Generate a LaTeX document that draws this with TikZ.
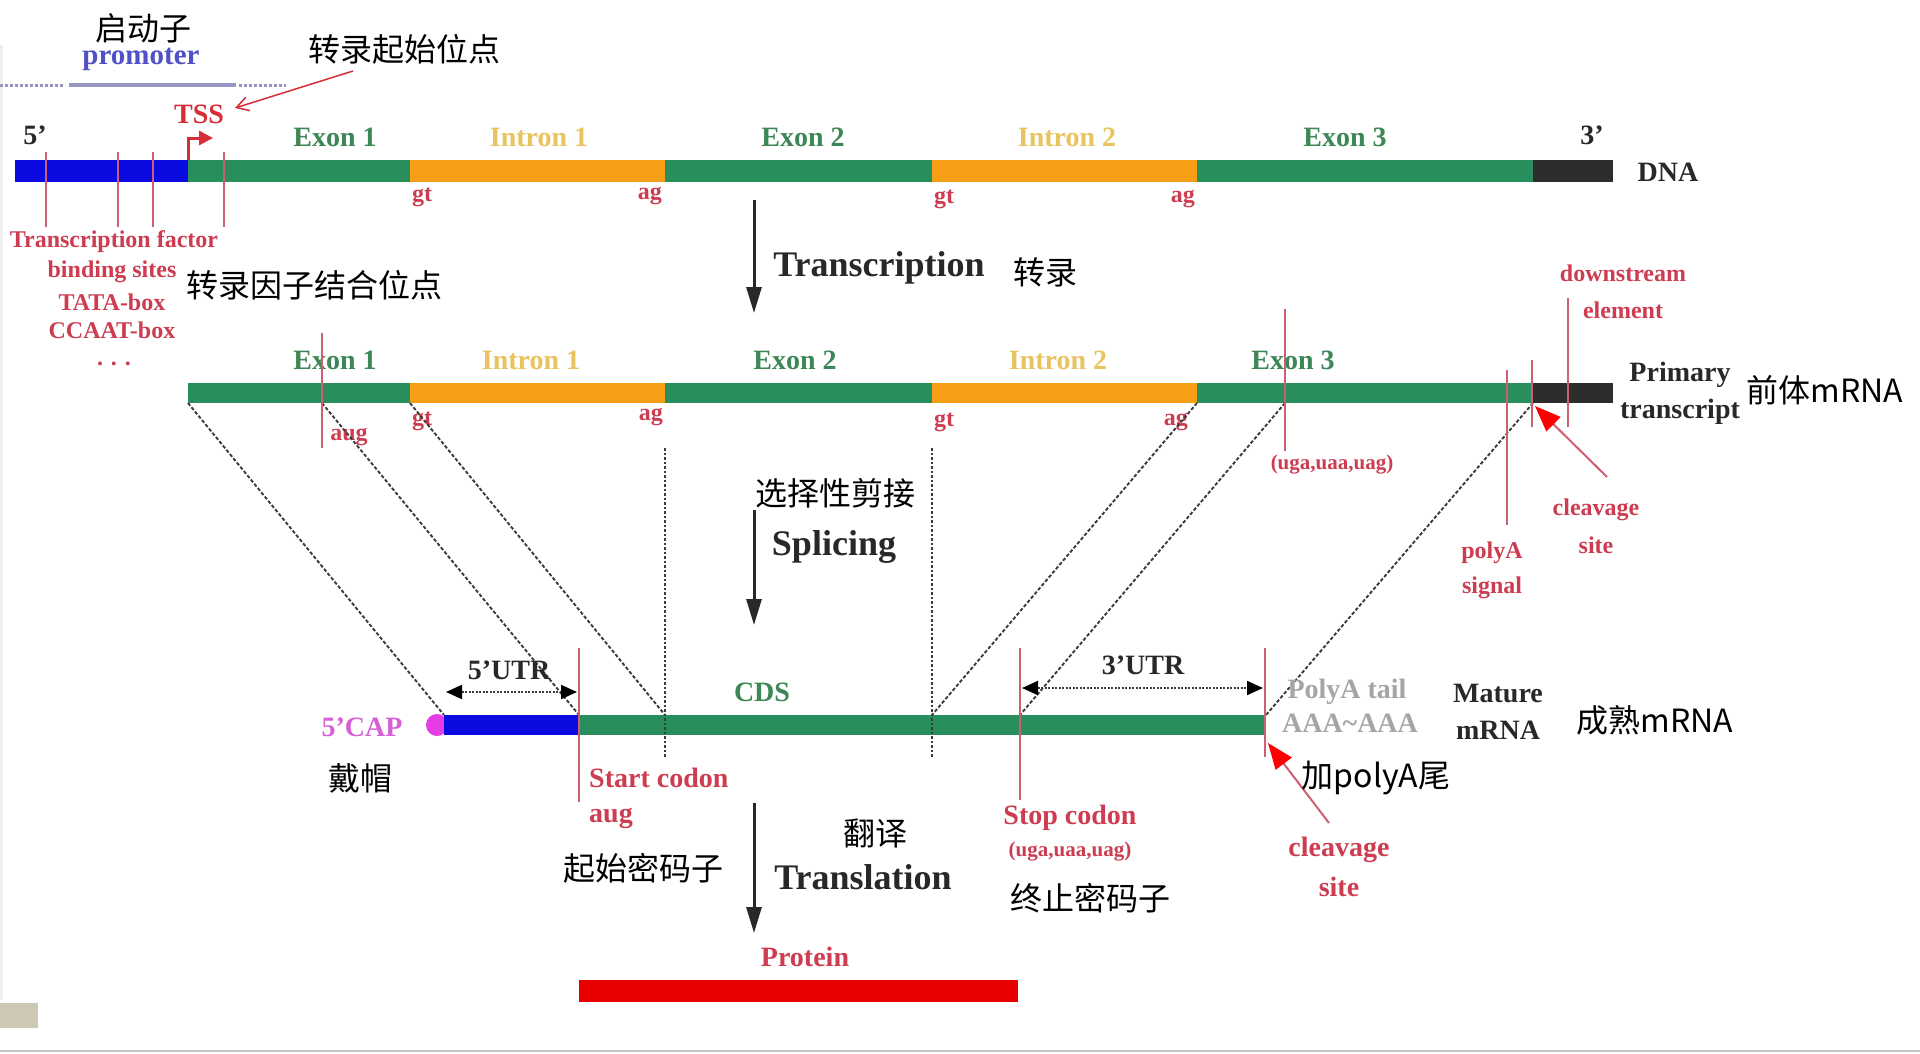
\documentclass[tikz,border=0pt]{standalone}
\usepackage{fontspec}
\setmainfont{Liberation Serif}
\newfontfamily\cjk{Noto Sans CJK SC}
\usetikzlibrary{arrows.meta}
\definecolor{exonG}{RGB}{40,142,92}
\definecolor{intronO}{RGB}{245,158,22}
\definecolor{dnaBlue}{RGB}{10,10,225}
\definecolor{tailK}{RGB}{45,45,45}
\definecolor{siteR}{RGB}{205,95,115}
\definecolor{labR}{RGB}{205,60,80}
\definecolor{tssR}{RGB}{215,45,55}
\definecolor{exLab}{RGB}{60,135,85}
\definecolor{inLab}{RGB}{232,195,95}
\definecolor{promB}{RGB}{80,80,200}
\definecolor{promLine}{RGB}{150,150,195}
\definecolor{capM}{RGB}{230,60,230}
\definecolor{capLab}{RGB}{215,95,215}
\definecolor{protR}{RGB}{232,0,0}
\definecolor{grayTxt}{RGB}{165,165,165}
\definecolor{darkTxt}{RGB}{40,40,40}
\definecolor{linkK}{RGB}{60,60,60}
\definecolor{edgeBox}{RGB}{205,200,180}
\tikzset{
  lab/.style={font=\fontsize{28}{32}\selectfont\bfseries, inner sep=0pt},
  exlab/.style={lab, text=exLab},
  inlab/.style={lab, text=inLab},
  redlab/.style={lab, text=labR},
  smallred/.style={redlab, font=\fontsize{24}{28}\selectfont\bfseries},
  tinyred/.style={redlab, font=\fontsize{21}{24}\selectfont\bfseries},
  blk/.style={lab, text=darkTxt},
  bigblk/.style={blk, font=\fontsize{36}{40}\selectfont\bfseries},
  cn/.style={font=\cjk\fontsize{32}{36}\selectfont, inner sep=0pt, text=black},
  site/.style={draw=siteR, line width=2pt},
  link/.style={draw=linkK, line width=1.9pt, dash pattern=on 3.5pt off 2pt},
  vlink/.style={draw=linkK, line width=1.7pt, dash pattern=on 2.5pt off 2pt},
  bigarrow/.style={draw=darkTxt, line width=3pt, -{Triangle[length=26pt,width=15pt]}},
  utr/.style={draw=linkK, line width=2pt, dash pattern=on 2pt off 1.5pt,
    {Triangle[length=16pt,width=14pt,color=black]}-{Triangle[length=16pt,width=14pt,color=black]}},
  cleave/.style={draw=siteR, line width=2pt, -{Triangle[length=26pt,width=20pt,color=red]}},
}
\begin{document}
\begin{tikzpicture}[x=1pt,y=-1pt]
\useasboundingbox (0,0) rectangle (1920,1053);
\fill[white] (0,0) rectangle (1920,1053);
% page edges
\fill[gray!12] (0,45) rectangle (3,1000);
\fill[edgeBox] (0,1003) rectangle (38,1028);
\draw[gray!45, line width=2pt] (0,1051) -- (1920,1051);

% ---------- Row 1: DNA ----------
\fill[dnaBlue] (15,160) rectangle (188,182);
\fill[exonG] (188,160) rectangle (410,182);
\fill[intronO] (410,160) rectangle (665,182);
\fill[exonG] (665,160) rectangle (932,182);
\fill[intronO] (932,160) rectangle (1197,182);
\fill[exonG] (1197,160) rectangle (1533,182);
\fill[tailK] (1533,160) rectangle (1613,182);

% promoter line
\draw[promLine, line width=3pt, dash pattern=on 3pt off 2pt] (0,85) -- (65,85);
\draw[promLine, line width=4pt] (69,85) -- (236,85);
\draw[promLine, line width=3pt, dash pattern=on 3pt off 2pt] (239,85) -- (286,85);

\node[cn] (qdz) at (143,28) {启动子};
\node[lab, text=promB, font=\fontsize{29}{32}\selectfont\bfseries] (prom) at (141,59) {promoter};
\node[cn] (zlqs) at (404,49) {转录起始位点};
\node[lab, text=tssR] (tss) at (199,114) {TSS};
\coordinate (tssA) at (353,71);
\coordinate (tssB) at (235,108);
\draw[tssR, line width=1.5pt, -{Straight Barb[length=12pt,width=14pt]}] (tssA) -- (tssB);
\coordinate (tssBase) at (188,160);
\coordinate (tssTip) at (213,138);
\draw[tssR, line width=3pt, -{Triangle[length=14pt,width=14pt]}] (tssBase) |- (tssTip);

\node[blk] (five) at (35,135) {5'};
\node[exlab] (e1) at (335,137) {Exon 1};
\node[inlab] (i1) at (539,137) {Intron 1};
\node[exlab] (e2) at (803,137) {Exon 2};
\node[inlab] (i2) at (1067,137) {Intron 2};
\node[exlab] (e3) at (1345,137) {Exon 3};
\node[blk] (three) at (1592,135) {3'};
\node[blk] (dna) at (1668,172) {DNA};

\node[smallred, anchor=west] (gt1) at (412,197) {gt};
\node[smallred, anchor=east] (ag1) at (662,196) {ag};
\node[smallred, anchor=west] (gt2) at (934,199) {gt};
\node[smallred, anchor=east] (ag2) at (1195,199) {ag};

% TF binding sites
\foreach \xx/\nm in {46/tfa,118/tfb,153/tfc,224/tfd}{
  \coordinate (\nm t) at (\xx,152);
  \coordinate (\nm b) at (\xx,227);
  \draw[site] (\nm t) -- (\nm b);
}
\node[smallred] (tf1) at (114,242) {Transcription factor};
\node[smallred] (tf2) at (112,272) {binding sites};
\node[smallred] (tf3) at (112,302) {TATA-box};
\node[smallred] (tf4) at (112,330) {CCAAT-box};
\node[smallred] (tf5) at (114,364) {. . .};
\node[cn] (zlyz) at (314,285) {转录因子结合位点};

% Transcription arrow
\coordinate (trA) at (754,200);
\coordinate (trB) at (754,313);
\draw[bigarrow] (trA) -- (trB);
\node[bigblk] (trans) at (879,268) {Transcription};
\node[cn] (zl) at (1045,272) {转录};

% ---------- Row 2: primary transcript ----------
\fill[exonG] (188,383) rectangle (410,403);
\fill[intronO] (410,383) rectangle (665,403);
\fill[exonG] (665,383) rectangle (932,403);
\fill[intronO] (932,383) rectangle (1197,403);
\fill[exonG] (1197,383) rectangle (1533,403);
\fill[tailK] (1533,383) rectangle (1613,403);

\node[exlab] (r2e1) at (335,360) {Exon 1};
\node[inlab] (r2i1) at (531,360) {Intron 1};
\node[exlab] (r2e2) at (795,360) {Exon 2};
\node[inlab] (r2i2) at (1058,360) {Intron 2};
\node[exlab] (r2e3) at (1293,360) {Exon 3};

\node[smallred, anchor=west] (r2gt1) at (412,421) {gt};
\node[smallred, anchor=east] (r2ag1) at (663,417) {ag};
\node[smallred, anchor=west] (r2gt2) at (934,422) {gt};
\node[smallred, anchor=east] (r2ag2) at (1188,422) {ag};
\node[smallred] (r2aug) at (349,437) {aug};
\node[tinyred] (r2stop) at (1332,465) {(uga,uaa,uag)};

\node[smallred] (ds1) at (1623,273) {downstream};
\node[smallred] (ds2) at (1623,310) {element};
\node[smallred] (cl1) at (1596,510) {cleavage};
\node[smallred] (cl2) at (1596,545) {site};
\node[smallred] (pa1) at (1492,553) {polyA};
\node[smallred] (pa2) at (1492,588) {signal};
\node[blk] (prim1) at (1680,375) {Primary};
\node[blk] (prim2) at (1680,412) {transcript};
\node[cn] (qt) at (1825,390) {前体mRNA};

% ---------- Row 3: mature mRNA ----------
\fill[capM] (437,725) circle (11);
\fill[dnaBlue] (444,715) rectangle (579,735);
\fill[exonG] (579,715) rectangle (1266,735);

% junction coordinates
\coordinate (p2a) at (188,403);   \coordinate (p3a) at (444,715);
\coordinate (p2aug) at (322,403); \coordinate (p3aug) at (579,715);
\coordinate (p2gt) at (410,403);  \coordinate (p3j1) at (665,715);
\coordinate (p2ag) at (1197,403); \coordinate (p3j2) at (932,715);
\coordinate (p2stop) at (1285,403); \coordinate (p3stop) at (1020,715);
\coordinate (p2cl) at (1533,403); \coordinate (p3end) at (1266,715);
\coordinate (v1t) at (665,448); \coordinate (v1b) at (665,757);
\coordinate (v2t) at (932,448); \coordinate (v2b) at (932,757);

\draw[link] (p2a) -- (p3a);
\draw[link] (p2aug) -- (p3aug);
\draw[link] (p2gt) -- (p3j1);
\draw[link] (p2ag) -- (p3j2);
\draw[link] (p2stop) -- (p3stop);
\draw[link] (p2cl) -- (p3end);
\draw[vlink] (v1t) -- (v1b);
\draw[vlink] (v2t) -- (v2b);

% Row 2 site lines
\coordinate (s1t) at (322,333);  \coordinate (s1b) at (322,448);
\coordinate (s2t) at (1285,309); \coordinate (s2b) at (1285,451);
\coordinate (s3t) at (1507,370); \coordinate (s3b) at (1507,525);
\coordinate (s4t) at (1532,360); \coordinate (s4b) at (1532,427);
\coordinate (s5t) at (1568,298); \coordinate (s5b) at (1568,427);
\draw[site] (s1t) -- (s1b);
\draw[site] (s2t) -- (s2b);
\draw[site] (s3t) -- (s3b);
\draw[site] (s4t) -- (s4b);
\draw[site] (s5t) -- (s5b);
\coordinate (c2a) at (1607,477); \coordinate (c2b) at (1535,406);
\draw[cleave] (c2a) -- (c2b);

% Splicing arrow
\coordinate (spA) at (754,510);
\coordinate (spB) at (754,625);
\draw[bigarrow] (spA) -- (spB);
\node[cn] (xzx) at (835,493) {选择性剪接};
\node[bigblk] (splice) at (834,547) {Splicing};

% Row 3 site lines and labels
\coordinate (t1t) at (579,648);  \coordinate (t1b) at (579,802);
\coordinate (t2t) at (1020,648); \coordinate (t2b) at (1020,800);
\coordinate (t3t) at (1265,648); \coordinate (t3b) at (1265,757);
\draw[site] (t1t) -- (t1b);
\draw[site] (t2t) -- (t2b);
\draw[site] (t3t) -- (t3b);
\coordinate (u5a) at (446,692); \coordinate (u5b) at (577,692);
\draw[utr] (u5a) -- (u5b);
\coordinate (u3a) at (1022,688); \coordinate (u3b) at (1263,688);
\draw[utr] (u3a) -- (u3b);
\coordinate (c3a) at (1329,823); \coordinate (c3b) at (1268,743);
\draw[cleave] (c3a) -- (c3b);

\node[blk] (utr5) at (509,670) {5'UTR};
\node[blk] (utr3) at (1143,665) {3'UTR};
\node[lab, text=capLab] (cap) at (362,727) {5'CAP};
\node[cn] (dm) at (360,778) {戴帽};
\node[exlab] (cds) at (762,692) {CDS};
\node[redlab, anchor=west] (start1) at (589,778) {Start codon};
\node[redlab, anchor=west] (start2) at (589,818) {aug};
\node[cn] (qsmm) at (643,868) {起始密码子};
\node[redlab] (stop1) at (1070,818) {Stop codon};
\node[tinyred] (stop2) at (1070,852) {(uga,uaa,uag)};
\node[cn] (zzmm) at (1090,898) {终止密码子};
\node[lab, text=grayTxt] (tail1) at (1347,692) {PolyA tail};
\node[lab, text=grayTxt] (tail2) at (1350,723) {AAA\textasciitilde AAA};
\node[blk] (mat1) at (1498,693) {Mature};
\node[blk] (mat2) at (1498,730) {mRNA};
\node[cn] (cs) at (1655,720) {成熟mRNA};
\node[cn] (jpa) at (1376,778) {加polyA尾};
\node[redlab] (cl3) at (1339,850) {cleavage};
\node[redlab] (cl4) at (1339,887) {site};

% Translation
\coordinate (tlA) at (754,803);
\coordinate (tlB) at (754,933);
\draw[bigarrow] (tlA) -- (tlB);
\node[cn] (fy) at (875,833) {翻译};
\node[bigblk] (transl) at (863,877) {Translation};
\node[redlab] (prot) at (805,957) {Protein};
\fill[protR] (579,980) rectangle (1018,1002);
\end{tikzpicture}
\end{document}
